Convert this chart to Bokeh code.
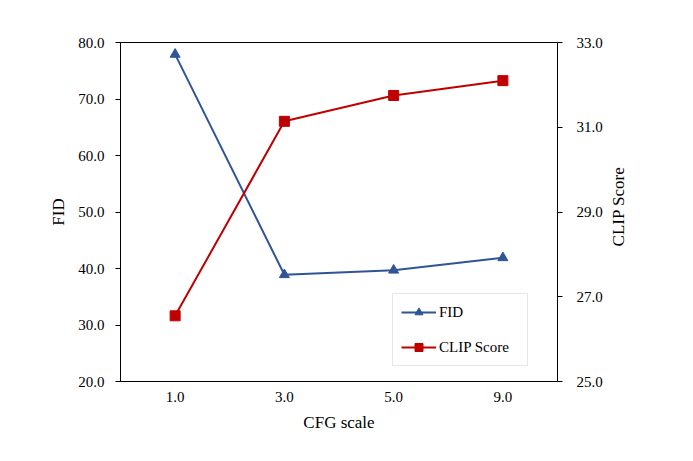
import math
from bokeh.plotting import figure
from bokeh.layouts import row
from bokeh.models import Range1d, LinearAxis, FixedTicker, NumeralTickFormatter, Legend, LegendItem, FactorRange
from bokeh.core.properties import value
from bokeh.embed import file_html
from bokeh.resources import INLINE

cfg_scales = ["1.0", "3.0", "5.0", "9.0"]
fid = [77.9, 38.9, 39.7, 41.9]
clip_score = [26.55, 31.14, 31.75, 32.1]
right_axis_title = ["CLIP Score"]

FONT = "Liberation Serif"
BLUE = "#2F5597"
RED = "#C00000"

p = figure(width=606, height=461, x_range=FactorRange(*cfg_scales, range_padding=0),
           y_range=Range1d(20, 80), output_backend="svg", toolbar_location=None,
           min_border_left=120, min_border_right=49, min_border_top=42, min_border_bottom=80)
p.extra_y_ranges = {"clip": Range1d(25, 33)}
p.grid.visible = False
p.outline_line_color = "black"
p.outline_line_width = 1
p.background_fill_color = "white"
p.border_fill_color = "white"

# left axis
ya = p.yaxis[0]
ya.ticker = FixedTicker(ticks=[20, 30, 40, 50, 60, 70, 80])
ya.formatter = NumeralTickFormatter(format="0.0")
ya.axis_label = "FID"

ra = LinearAxis(y_range_name="clip")
ra.ticker = FixedTicker(ticks=[25, 27, 29, 31, 33])
ra.formatter = NumeralTickFormatter(format="0.0")
p.add_layout(ra, "right")

xa = p.xaxis[0]
xa.axis_label = "CFG scale"
xa.major_tick_out = 0
xa.major_tick_in = 0

for ax in [ya, ra, xa]:
    ax.axis_line_color = "black"
    ax.axis_line_width = 1
    ax.major_tick_line_color = "black"
    ax.minor_tick_line_color = None
    ax.major_label_text_font = FONT
    ax.major_label_text_font_size = "15px"
    ax.major_label_text_color = "#000000"
    ax.axis_label_text_font = FONT
    ax.axis_label_text_font_size = "17px"
    ax.axis_label_text_font_style = "normal"
    ax.axis_label_text_color = "#000000"
for ax in [ya, ra]:
    ax.major_tick_out = 5
    ax.major_tick_in = 0
ya.major_label_standoff = 11
ya.axis_label_standoff = 7
ra.major_label_standoff = 14
xa.major_label_standoff = 10
xa.axis_label_standoff = 8

l1 = p.line(cfg_scales, fid, line_color=BLUE, line_width=2)
m1 = p.scatter(cfg_scales, fid, marker="triangle", size=10, fill_color=BLUE, line_color=BLUE)
l2 = p.line(cfg_scales, clip_score, line_color=RED, line_width=2, y_range_name="clip")
m2 = p.scatter(cfg_scales, clip_score, marker="square", size=10, fill_color=RED, line_color=RED, y_range_name="clip")

legend = Legend(items=[LegendItem(label="FID", renderers=[l1, m1]),
                       LegendItem(label="CLIP Score", renderers=[l2, m2])],
                location=(272, 15))
legend.label_text_font = FONT
legend.label_text_font_size = "15px"
legend.label_text_color = "#000000"
legend.glyph_width = 35
legend.glyph_height = 20
legend.label_height = 20
legend.label_standoff = 3
legend.label_width = 80
legend.spacing = 15
legend.padding = 8
legend.margin = 0
legend.border_line_color = "#D0D0D0"
legend.border_line_width = 1
legend.background_fill_color = "white"
legend.background_fill_alpha = 1
p.add_layout(legend, "center")

# narrow side figure carrying the right axis title (reads bottom-to-top)
p2 = figure(width=87, height=461, x_range=Range1d(0, 87), y_range=Range1d(0, 461),
            output_backend="svg", toolbar_location=None,
            x_axis_location=None, y_axis_location=None, min_border=0)
p2.grid.visible = False
p2.outline_line_color = None
p2.background_fill_color = "white"
p2.border_fill_color = "white"
p2.text(x=[12], y=[238], text=right_axis_title, angle=math.pi / 2,
        text_align="center", text_baseline="middle",
        text_font=value(FONT), text_font_size="17px", text_color="#000000")

layout = row(p, p2, spacing=0)
open("out.html", "w").write(file_html(layout, INLINE))
